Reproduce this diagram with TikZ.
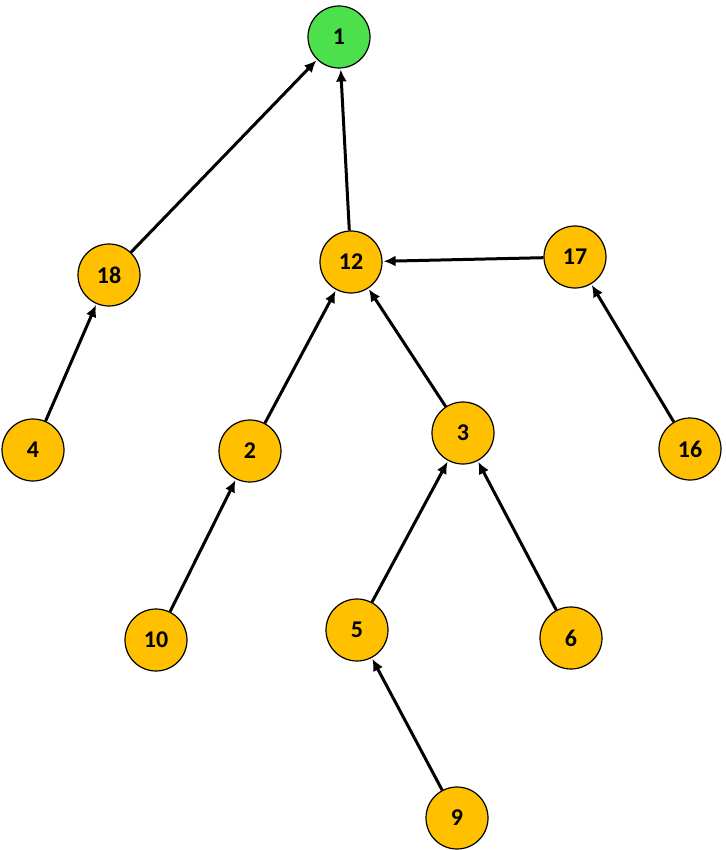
\documentclass[tikz,border=0pt]{standalone}
\usepackage{fontspec}
\setmainfont{Carlito}
\usetikzlibrary{arrows.meta}
\definecolor{nodeor}{HTML}{FFC000}
\definecolor{nodegr}{HTML}{4CE04C}
\begin{document}
\begin{tikzpicture}[x=1pt,y=-1pt,
  vert/.style={circle,draw=black,line width=1.2pt,fill=nodeor,minimum size=62pt,inner sep=0pt,font=\fontsize{24}{24}\selectfont\bfseries},
  edge/.style={line width=3pt,-{Latex[length=12pt,width=11pt]},shorten >=1pt}]
\useasboundingbox (0,0) rectangle (725,850);
\node[vert,fill=nodegr] (n1) at (339,37) {1};
\node[vert] (n18) at (109,275) {18};
\node[vert] (n12) at (351,262) {12};
\node[vert] (n17) at (575,257) {17};
\node[vert] (n4) at (33,450) {4};
\node[vert] (n2) at (250,451) {2};
\node[vert] (n3) at (463,433) {3};
\node[vert] (n16) at (690,449) {16};
\node[vert] (n10) at (156,640) {10};
\node[vert] (n5) at (357,630) {5};
\node[vert] (n6) at (571,638) {6};
\node[vert] (n9) at (457,818) {9};
\draw[edge] (n18) -- (n1);
\draw[edge] (n12) -- (n1);
\draw[edge] (n17) -- (n12);
\draw[edge] (n4) -- (n18);
\draw[edge] (n2) -- (n12);
\draw[edge] (n3) -- (n12);
\draw[edge] (n16) -- (n17);
\draw[edge] (n10) -- (n2);
\draw[edge] (n5) -- (n3);
\draw[edge] (n6) -- (n3);
\draw[edge] (n9) -- (n5);
\end{tikzpicture}
\end{document}
